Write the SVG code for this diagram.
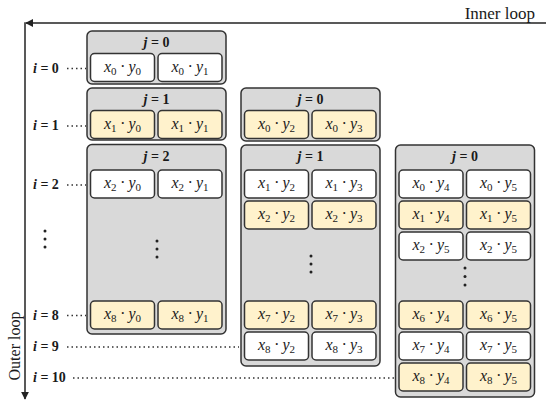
<svg xmlns="http://www.w3.org/2000/svg" width="550" height="406" viewBox="0 0 550 406" font-family="'Liberation Serif', 'Times New Roman', Times, serif">
<defs>
<style>
.box{fill:#d9d9d9;stroke:#333;stroke-width:1.5}
.cw{fill:#ffffff;stroke:#333;stroke-width:1.5}
.cy{fill:#fff2cc;stroke:#333;stroke-width:1.5}
.t,.c,.lb,.big{font-family:'Liberation Serif','Times New Roman',Times,serif;fill:#1a1a1a}
.t{font-size:14px;font-weight:bold;text-anchor:middle}
.c{font-size:16px;font-style:italic;text-anchor:middle}
.s{font-size:11px;font-style:normal}
.lb{font-size:14px;font-weight:bold}
.big{font-size:17px}
.dl{fill:none;stroke:#333;stroke-width:1.5;stroke-dasharray:1.5 3}
.ar{fill:none;stroke:#222;stroke-width:1.5}
.dot{fill:#222}
</style>
<marker id="ah" viewBox="0 0 10 10" refX="9" refY="5" markerWidth="8" markerHeight="8" markerUnits="userSpaceOnUse" orient="auto">
<path d="M0,0 L10,5 L0,10 z" fill="#222"/>
</marker>
</defs>

<g id="connectors">
<line class="ar" x1="546" y1="23" x2="26" y2="23" marker-end="url(#ah)"/>
<line class="ar" x1="25" y1="22.3" x2="25" y2="399" marker-end="url(#ah)"/>
<line class="dl" x1="67" y1="68.5" x2="86" y2="68.5"/>
<line class="dl" x1="67" y1="126" x2="86" y2="126"/>
<line class="dl" x1="67" y1="185" x2="86" y2="185"/>
<line class="dl" x1="67" y1="315.5" x2="86" y2="315.5"/>
<line class="dl" x1="67" y1="347" x2="239" y2="347"/>
<line class="dl" x1="73" y1="378" x2="394" y2="378"/>
</g>

<g id="loop-labels">
<text class="big" x="535" y="18.5" text-anchor="end">Inner loop</text>
<text class="big" style="font-size:16px" transform="translate(19.5,346) rotate(-90)" text-anchor="middle">Outer loop</text>
</g>

<g id="i-labels">
<text class="lb" x="33" y="72.5"><tspan font-style="italic">i</tspan> = 0</text>
<text class="lb" x="33" y="130"><tspan font-style="italic">i</tspan> = 1</text>
<text class="lb" x="33" y="189"><tspan font-style="italic">i</tspan> = 2</text>
<text class="lb" x="33" y="319.5"><tspan font-style="italic">i</tspan> = 8</text>
<text class="lb" x="33" y="351"><tspan font-style="italic">i</tspan> = 9</text>
<text class="lb" x="33" y="382"><tspan font-style="italic">i</tspan> = 10</text>
<circle class="dot" cx="45" cy="231" r="1.5"/>
<circle class="dot" cx="45" cy="239" r="1.5"/>
<circle class="dot" cx="45" cy="247" r="1.5"/>
</g>

<g id="c1-j0">
<rect class="box" x="87" y="31" width="139" height="53" rx="5"/>
<text class="t" x="156.5" y="47"><tspan font-style="italic">j</tspan> = 0</text>
<rect class="cw" x="90.5" y="53.5" width="64" height="28" rx="4"/>
<rect class="cw" x="158" y="53.5" width="64" height="28" rx="4"/>
<text class="c" x="122.5" y="71.5">x<tspan class="s" dy="3">0</tspan><tspan dy="-3"> · y</tspan><tspan class="s" dy="3">0</tspan></text>
<text class="c" x="190" y="71.5">x<tspan class="s" dy="3">0</tspan><tspan dy="-3"> · y</tspan><tspan class="s" dy="3">1</tspan></text>
</g>

<g id="c1-j1">
<rect class="box" x="87" y="88" width="139" height="52" rx="5"/>
<text class="t" x="156.5" y="104"><tspan font-style="italic">j</tspan> = 1</text>
<rect class="cy" x="90.5" y="110.5" width="64" height="28" rx="4"/>
<rect class="cy" x="158" y="110.5" width="64" height="28" rx="4"/>
<text class="c" x="122.5" y="128.5">x<tspan class="s" dy="3">1</tspan><tspan dy="-3"> · y</tspan><tspan class="s" dy="3">0</tspan></text>
<text class="c" x="190" y="128.5">x<tspan class="s" dy="3">1</tspan><tspan dy="-3"> · y</tspan><tspan class="s" dy="3">1</tspan></text>
</g>

<g id="c1-j2">
<rect class="box" x="87" y="144.5" width="139" height="189.5" rx="5"/>
<text class="t" x="156.5" y="161"><tspan font-style="italic">j</tspan> = 2</text>
<rect class="cw" x="90.5" y="170" width="64" height="28" rx="4"/>
<rect class="cw" x="158" y="170" width="64" height="28" rx="4"/>
<text class="c" x="122.5" y="188">x<tspan class="s" dy="3">2</tspan><tspan dy="-3"> · y</tspan><tspan class="s" dy="3">0</tspan></text>
<text class="c" x="190" y="188">x<tspan class="s" dy="3">2</tspan><tspan dy="-3"> · y</tspan><tspan class="s" dy="3">1</tspan></text>
<circle class="dot" cx="157" cy="241" r="1.5"/>
<circle class="dot" cx="157" cy="249" r="1.5"/>
<circle class="dot" cx="157" cy="257" r="1.5"/>
<rect class="cy" x="90.5" y="301" width="64" height="28" rx="4"/>
<rect class="cy" x="158" y="301" width="64" height="28" rx="4"/>
<text class="c" x="122.5" y="319">x<tspan class="s" dy="3">8</tspan><tspan dy="-3"> · y</tspan><tspan class="s" dy="3">0</tspan></text>
<text class="c" x="190" y="319">x<tspan class="s" dy="3">8</tspan><tspan dy="-3"> · y</tspan><tspan class="s" dy="3">1</tspan></text>
</g>

<g id="c2-j0">
<rect class="box" x="241" y="88" width="139" height="53" rx="5"/>
<text class="t" x="310.5" y="104"><tspan font-style="italic">j</tspan> = 0</text>
<rect class="cy" x="244.5" y="110.5" width="64" height="28" rx="4"/>
<rect class="cy" x="312" y="110.5" width="64" height="28" rx="4"/>
<text class="c" x="276.5" y="128.5">x<tspan class="s" dy="3">0</tspan><tspan dy="-3"> · y</tspan><tspan class="s" dy="3">2</tspan></text>
<text class="c" x="344" y="128.5">x<tspan class="s" dy="3">0</tspan><tspan dy="-3"> · y</tspan><tspan class="s" dy="3">3</tspan></text>
</g>

<g id="c2-j1">
<rect class="box" x="241" y="145" width="139" height="221" rx="5"/>
<text class="t" x="310.5" y="161"><tspan font-style="italic">j</tspan> = 1</text>
<rect class="cw" x="244.5" y="170" width="64" height="28" rx="4"/>
<rect class="cw" x="312" y="170" width="64" height="28" rx="4"/>
<text class="c" x="276.5" y="188">x<tspan class="s" dy="3">1</tspan><tspan dy="-3"> · y</tspan><tspan class="s" dy="3">2</tspan></text>
<text class="c" x="344" y="188">x<tspan class="s" dy="3">1</tspan><tspan dy="-3"> · y</tspan><tspan class="s" dy="3">3</tspan></text>
<rect class="cy" x="244.5" y="201" width="64" height="28" rx="4"/>
<rect class="cy" x="312" y="201" width="64" height="28" rx="4"/>
<text class="c" x="276.5" y="219">x<tspan class="s" dy="3">2</tspan><tspan dy="-3"> · y</tspan><tspan class="s" dy="3">2</tspan></text>
<text class="c" x="344" y="219">x<tspan class="s" dy="3">2</tspan><tspan dy="-3"> · y</tspan><tspan class="s" dy="3">3</tspan></text>
<circle class="dot" cx="311" cy="256" r="1.5"/>
<circle class="dot" cx="311" cy="264" r="1.5"/>
<circle class="dot" cx="311" cy="272" r="1.5"/>
<rect class="cy" x="244.5" y="301" width="64" height="28" rx="4"/>
<rect class="cy" x="312" y="301" width="64" height="28" rx="4"/>
<text class="c" x="276.5" y="319">x<tspan class="s" dy="3">7</tspan><tspan dy="-3"> · y</tspan><tspan class="s" dy="3">2</tspan></text>
<text class="c" x="344" y="319">x<tspan class="s" dy="3">7</tspan><tspan dy="-3"> · y</tspan><tspan class="s" dy="3">3</tspan></text>
<rect class="cw" x="244.5" y="332" width="64" height="28" rx="4"/>
<rect class="cw" x="312" y="332" width="64" height="28" rx="4"/>
<text class="c" x="276.5" y="350">x<tspan class="s" dy="3">8</tspan><tspan dy="-3"> · y</tspan><tspan class="s" dy="3">2</tspan></text>
<text class="c" x="344" y="350">x<tspan class="s" dy="3">8</tspan><tspan dy="-3"> · y</tspan><tspan class="s" dy="3">3</tspan></text>
</g>

<g id="c3-j0">
<rect class="box" x="395.5" y="145" width="139" height="252" rx="5"/>
<text class="t" x="465" y="161"><tspan font-style="italic">j</tspan> = 0</text>
<rect class="cw" x="399" y="170" width="64" height="28" rx="4"/>
<rect class="cw" x="466.5" y="170" width="64" height="28" rx="4"/>
<text class="c" x="431" y="188">x<tspan class="s" dy="3">0</tspan><tspan dy="-3"> · y</tspan><tspan class="s" dy="3">4</tspan></text>
<text class="c" x="498.5" y="188">x<tspan class="s" dy="3">0</tspan><tspan dy="-3"> · y</tspan><tspan class="s" dy="3">5</tspan></text>
<rect class="cy" x="399" y="201" width="64" height="28" rx="4"/>
<rect class="cy" x="466.5" y="201" width="64" height="28" rx="4"/>
<text class="c" x="431" y="219">x<tspan class="s" dy="3">1</tspan><tspan dy="-3"> · y</tspan><tspan class="s" dy="3">4</tspan></text>
<text class="c" x="498.5" y="219">x<tspan class="s" dy="3">1</tspan><tspan dy="-3"> · y</tspan><tspan class="s" dy="3">5</tspan></text>
<rect class="cw" x="399" y="232" width="64" height="28" rx="4"/>
<rect class="cw" x="466.5" y="232" width="64" height="28" rx="4"/>
<text class="c" x="431" y="250">x<tspan class="s" dy="3">2</tspan><tspan dy="-3"> · y</tspan><tspan class="s" dy="3">5</tspan></text>
<text class="c" x="498.5" y="250">x<tspan class="s" dy="3">2</tspan><tspan dy="-3"> · y</tspan><tspan class="s" dy="3">5</tspan></text>
<circle class="dot" cx="465" cy="268" r="1.5"/>
<circle class="dot" cx="465" cy="276.5" r="1.5"/>
<circle class="dot" cx="465" cy="285" r="1.5"/>
<rect class="cy" x="399" y="301" width="64" height="28" rx="4"/>
<rect class="cy" x="466.5" y="301" width="64" height="28" rx="4"/>
<text class="c" x="431" y="319">x<tspan class="s" dy="3">6</tspan><tspan dy="-3"> · y</tspan><tspan class="s" dy="3">4</tspan></text>
<text class="c" x="498.5" y="319">x<tspan class="s" dy="3">6</tspan><tspan dy="-3"> · y</tspan><tspan class="s" dy="3">5</tspan></text>
<rect class="cw" x="399" y="332" width="64" height="28" rx="4"/>
<rect class="cw" x="466.5" y="332" width="64" height="28" rx="4"/>
<text class="c" x="431" y="350">x<tspan class="s" dy="3">7</tspan><tspan dy="-3"> · y</tspan><tspan class="s" dy="3">4</tspan></text>
<text class="c" x="498.5" y="350">x<tspan class="s" dy="3">7</tspan><tspan dy="-3"> · y</tspan><tspan class="s" dy="3">5</tspan></text>
<rect class="cy" x="399" y="363" width="64" height="28" rx="4"/>
<rect class="cy" x="466.5" y="363" width="64" height="28" rx="4"/>
<text class="c" x="431" y="381">x<tspan class="s" dy="3">8</tspan><tspan dy="-3"> · y</tspan><tspan class="s" dy="3">4</tspan></text>
<text class="c" x="498.5" y="381">x<tspan class="s" dy="3">8</tspan><tspan dy="-3"> · y</tspan><tspan class="s" dy="3">5</tspan></text>
</g>
</svg>
